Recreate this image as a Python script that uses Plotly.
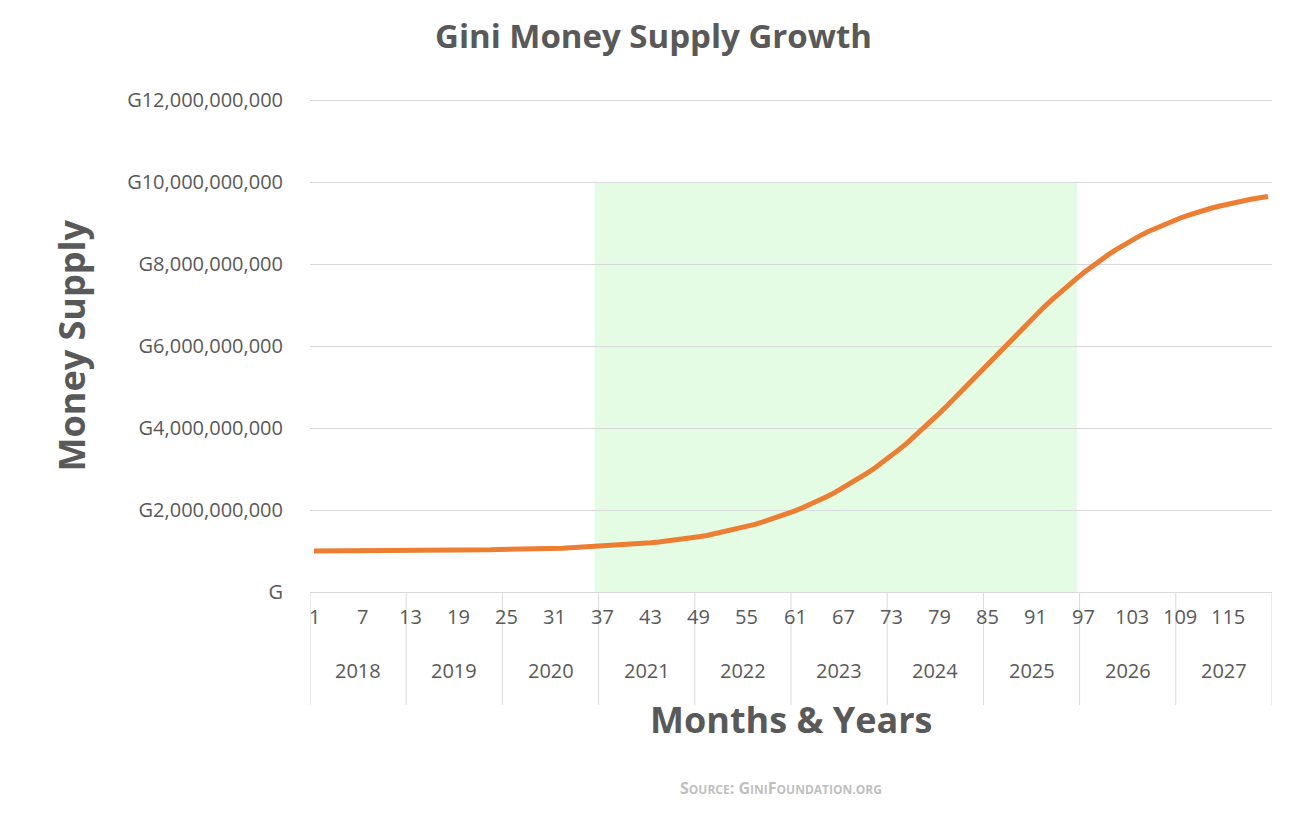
import plotly.graph_objects as go

months = list(range(1, 121))
supply_billions = [
    1.00,1.00,1.00,1.00,1.00,1.00,1.00,1.00,1.01,1.01,1.01,1.01,
    1.01,1.02,1.02,1.02,1.02,1.02,1.03,1.03,1.03,1.03,1.03,1.04,
    1.04,1.05,1.05,1.05,1.06,1.06,1.07,1.07,1.08,1.09,1.09,1.10,
    1.11,1.12,1.13,1.15,1.16,1.18,1.20,1.22,1.24,1.27,1.29,1.32,
    1.35,1.38,1.42,1.46,1.50,1.55,1.60,1.65,1.71,1.77,1.84,1.91,
    1.98,2.06,2.14,2.23,2.33,2.43,2.54,2.65,2.77,2.90,3.03,3.17,
    3.32,3.48,3.64,3.81,3.99,4.17,4.36,4.55,4.75,4.95,5.16,5.37,
    5.58,5.78,5.98,6.18,6.38,6.57,6.76,6.94,7.12,7.30,7.47,7.63,
    7.79,7.94,8.08,8.22,8.35,8.47,8.59,8.69,8.79,8.88,8.97,9.05,
    9.12,9.19,9.26,9.32,9.37,9.42,9.47,9.51,9.55,9.59,9.62,9.65,
]
years = ["2018","2019","2020","2021","2022","2023","2024","2025","2026","2027"]
month_ticks = list(range(1, 121, 6))
y_ticks = [0, 2e9, 4e9, 6e9, 8e9, 10e9, 12e9]
y_labels = ["G", "G2,000,000,000", "G4,000,000,000", "G6,000,000,000",
            "G8,000,000,000", "G10,000,000,000", "G12,000,000,000"]
shade_start, shade_end, shade_top = 36.0, 96.2, 10e9

FONT = "Open Sans"
GREY = "#595959"

fig = go.Figure()
fig.add_shape(type="rect", x0=shade_start, x1=shade_end, y0=0, y1=shade_top,
              fillcolor="#e3fce3", line_width=0, layer="below")
fig.add_trace(go.Scatter(x=months, y=[v * 1e9 for v in supply_billions],
                         mode="lines", line=dict(color="#ed7d31", width=5),
                         hoverinfo="skip"))

for i in range(len(years) + 1):
    xv = 0.5 + 12 * i
    fig.add_shape(type="line", x0=xv, x1=xv, xref="x", yref="paper",
                  y0=0, y1=-0.229, line=dict(color="#d9d9d9", width=1))
for m in month_ticks:
    fig.add_annotation(x=m, y=-0.081, xref="x", yref="paper", text=str(m),
                       showarrow=False, font=dict(size=20, color=GREY, family=FONT))
for i, yr in enumerate(years):
    fig.add_annotation(x=6.5 + 12 * i, y=-0.191, xref="x", yref="paper", text=yr,
                       showarrow=False, font=dict(size=20, color=GREY, family=FONT))

fig.add_annotation(x=0.5, xref="paper", y=-0.312, yref="paper", text="<b>Months & Years</b>",
                   showarrow=False, font=dict(size=36, color=GREY, family=FONT))
fig.add_annotation(x=-0.275, xref="paper", y=0.5, yref="paper", text="<b>Money Supply</b>",
                   textangle=-90, showarrow=False, font=dict(size=36, color=GREY, family=FONT))
src = ("S<span style='font-size:12px'>OURCE</span>: G<span style='font-size:12px'>INI</span>"
       "F<span style='font-size:12px'>OUNDATION</span><span style='font-size:12px'>.ORG</span>")
fig.add_annotation(x=0.49, xref="paper", y=-0.423, yref="paper", text="<b>" + src + "</b>",
                   showarrow=False, font=dict(size=16, color="#bfbfbf", family=FONT))

fig.update_layout(
    width=1291, height=826,
    margin=dict(l=302, r=27, t=91, b=242),
    paper_bgcolor="white", plot_bgcolor="white",
    showlegend=False,
    title=dict(text="<b>Gini Money Supply Growth</b>", x=0.5, xanchor="center",
               y=0.966, yanchor="middle", font=dict(size=33, color=GREY, family=FONT)),
    xaxis=dict(range=[0.5, 120.5], showticklabels=False, showgrid=False, zeroline=False,
               showline=True, linecolor="#d9d9d9", ticks=""),
    yaxis=dict(range=[0, 12.03e9], tickvals=y_ticks, ticktext=y_labels, showgrid=True,
               gridcolor="#d9d9d9", zeroline=False, ticklabelstandoff=26,
               tickfont=dict(size=20, color=GREY, family=FONT)),
)
fig.write_html("out.html")
